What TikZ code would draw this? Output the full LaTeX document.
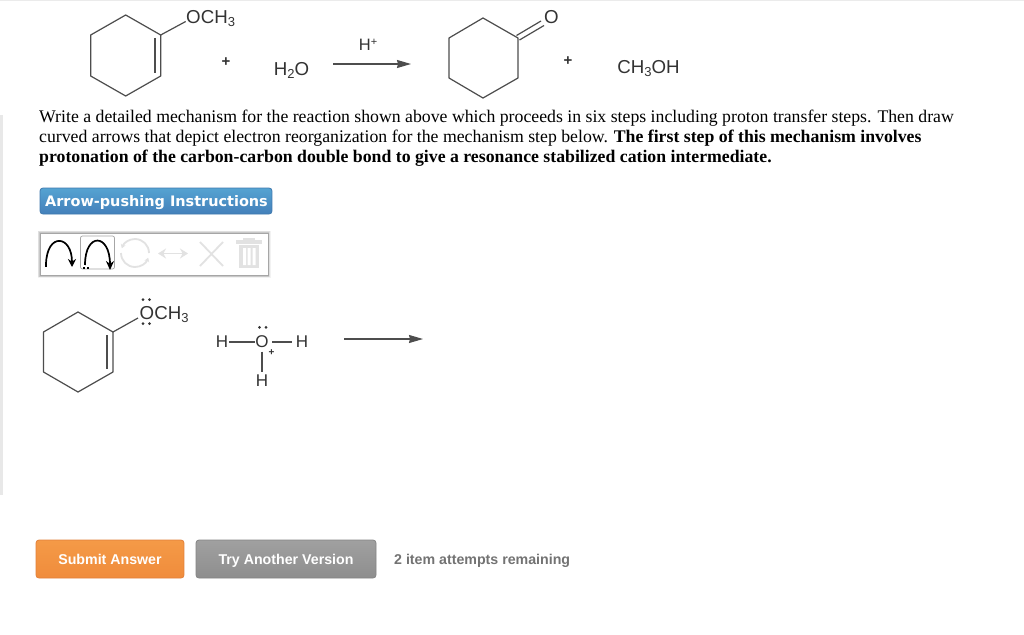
\documentclass[tikz,border=0pt]{standalone}
\usepackage{fontspec}
\setmainfont{Liberation Serif}
\newfontfamily\chemf{Liberation Sans}
\newfontfamily\btnf{DejaVu Sans}
\usetikzlibrary{arrows.meta,calc}
\definecolor{chem}{HTML}{333333}
\definecolor{bond}{HTML}{4D4D4D}
\definecolor{dis}{HTML}{E2E2E2}
\definecolor{blued}{HTML}{3F79AE}
\definecolor{bluet}{HTML}{55A3D2}
\definecolor{blueb}{HTML}{4480BA}
\definecolor{orad}{HTML}{E2803A}
\definecolor{orat}{HTML}{F49A47}
\definecolor{orab}{HTML}{F08C3C}
\definecolor{grad}{HTML}{858585}
\definecolor{grat}{HTML}{A0A0A0}
\definecolor{grab}{HTML}{8E8E8E}
\tikzset{
  x=1pt,y=-1pt,
  bondl/.style={draw=bond,line width=1.2pt},
  atom/.style={font=\chemf\fontsize{18.7}{18.7}\selectfont,text=chem,inner sep=1pt},
  atoms/.style={font=\chemf\fontsize{17}{17}\selectfont,text=chem,inner sep=.5pt},
  plus/.style={font=\chemf\bfseries\fontsize{15}{15}\selectfont,text=chem,inner sep=0pt},
  rxn/.style={draw=bond,line width=1.2pt,-{Stealth[length=14pt,width=8pt,inset=1pt]}},
  body/.style={anchor=base west,inner sep=0pt,text=black,font=\fontsize{17.75}{17.75}\selectfont},
  bodyb/.style={body,font=\fontsize{17.75}{17.75}\selectfont\bfseries},
  btn/.style={rounded corners=3pt,line width=.8pt,inner sep=0pt},
  btntext/.style={anchor=base,inner sep=0pt,text=white,font=\chemf\bfseries\fontsize{14.2}{14.2}\selectfont},
  lp/.style={fill=chem,draw=none,circle,minimum size=3pt,inner sep=0pt},
  icon/.style={draw=black,line width=1.7pt},
  disl/.style={draw=dis,line width=1.8pt},
}
\newcommand{\ring}[7]{%
  \coordinate (#1a) at #2; \coordinate (#1b) at #3; \coordinate (#1c) at #4;
  \coordinate (#1d) at #5; \coordinate (#1e) at #6; \coordinate (#1f) at #7;
  \draw[bondl,line join=round] (#1a)--(#1b)--(#1c)--(#1d)--(#1e)--(#1f)--cycle;}
\newcommand{\subs}[1]{\raisebox{-3pt}{\fontsize{13}{13}\selectfont #1}}
\begin{document}
\begin{tikzpicture}
\path[use as bounding box,fill=white] (0,0) rectangle (1024,634);
\fill[black!8] (0,0) rectangle (1024,1);
\fill[black!9] (0,115) rectangle (3,495);

% top reaction
\ring{r}{(125.7,15)}{(160.7,35)}{(160.7,76)}{(125.7,96)}{(90.7,76)}{(90.7,35)}
\coordinate (rd1) at (155,38); \coordinate (rd2) at (155,73);
\draw[bondl] (rd1)--(rd2);
\node[atom,anchor=base west,inner sep=0pt] (och) at (186,24) {OCH\subs{3}};
\coordinate (ochb) at (185.7,21.5);
\draw[bondl] (rb)--(ochb);
\node[plus] (p1) at (226,62.5) {+};
\node[atom,anchor=base] (wat) at (291.5,75) {H\subs{2}O};
\node[atom,font=\chemf\fontsize{16.5}{16.5}\selectfont] (hp) at (368,45) {H\raisebox{5pt}{\fontsize{11}{11}\selectfont +}};
\coordinate (a1s) at (333,64); \coordinate (a1e) at (411,64);
\draw[rxn] (a1s)--(a1e);
\ring{k}{(483,18)}{(518,38)}{(518,78)}{(483,98)}{(449,78)}{(449,38)}
\node[atom,inner sep=0pt] (ko) at (551.5,17) {O};
\coordinate (ko1) at (516.5,35.5); \coordinate (ko2) at (541,21);
\coordinate (ko3) at (519.5,40); \coordinate (ko4) at (544,25.5);
\draw[bondl] (ko1)--(ko2); \draw[bondl] (ko3)--(ko4);
\node[plus] (p2) at (568,61.5) {+};
\node[atom,anchor=base] (meoh) at (648.5,73) {CH\subs{3}OH};

% text
\node[body] (t1) at (39,122) {Write a detailed mechanism for the reaction shown above which proceeds in six steps including proton transfer steps. Then draw};
\node[body] (t2) at (39,142) {curved arrows that depict electron reorganization for the mechanism step below. \textbf{The first step of this mechanism involves}};
\node[bodyb] (t3) at (39,162) {protonation of the carbon-carbon double bond to give a resonance stabilized cation intermediate.};

% blue button
\node[btn,draw=blued,top color=bluet,bottom color=blueb,minimum width=232pt,minimum height=26pt] (instr) at (156,201) {};
\node[btntext,font=\btnf\bfseries\fontsize{14.45}{14.45}\selectfont] (instrt) at (156.5,206) {Arrow-pushing Instructions};

% toolbar
\foreach \s/\o in {5/.05,3.5/.08,2/.1}{\fill[black,opacity=\o] (40-\s/2,233-\s/2) rectangle (268+\s/2,275+\s/2+.5);}
\node[draw=black!35,fill=white,line width=.8pt,minimum width=228pt,minimum height=42pt,inner sep=0pt] (tools) at (154,254) {};
\node[draw=black!35,fill=white,rounded corners=2pt,line width=.7pt,minimum width=34pt,minimum height=33pt,inner sep=0pt] (sel) at (97.5,252.5) {};
\draw[icon,-{Stealth[length=8pt,width=8pt]}] (46,264) .. controls (47,232) and (72,235) .. (72,267);
\fill[black] (45.2,264) rectangle (47.4,266.5);
\draw[icon,-{Stealth[length=9pt,width=8pt]}] (85,265) .. controls (85,232) and (110,233) .. (110,270);
\fill[black] (83,266.5) rectangle (85,268.5); \fill[black] (87,266.5) rectangle (89,268.5);
% redo circle
\draw[disl,-{Stealth[length=4pt,width=5pt]}] (121,253) arc[start angle=180,end angle=340,x radius=14,y radius=-14];
\draw[disl,-{Stealth[length=4pt,width=5pt]}] (149,253) arc[start angle=0,end angle=160,x radius=14,y radius=-14];
% double arrow, cross, trash
\draw[disl,{Stealth[length=8pt,width=10pt]}-{Stealth[length=8pt,width=10pt]}] (158,253.5)--(188,253.5);
\draw[disl] (200,242)--(223,266) (223,242)--(200,266);
\fill[dis] (236,240) rectangle (262,243.5);
\fill[dis] (243,238) rectangle (255,240);
\fill[dis] (239,245) rectangle (259,268);
\fill[white] (243,248) rectangle (246,265) (247.7,248) rectangle (250.7,265) (252.5,248) rectangle (255.5,265);

% lower molecule
\ring{c}{(78,312)}{(113,332)}{(113,372)}{(78,392)}{(43.5,372)}{(43.5,332)}
\coordinate (cd1) at (107,335); \coordinate (cd2) at (107,369);
\draw[bondl] (cd1)--(cd2);
\node[atom,anchor=base west,inner sep=0pt] (och2) at (139.5,319) {OCH\subs{3}};
\coordinate (och2b) at (138,318);
\draw[bondl] (cb)--(och2b);
\foreach \p/\n in {(143,299.5)/a,(149.5,299.5)/b,(143,323.5)/c,(149.5,323.5)/d}{\node[lp] (l\n) at \p {};}

% hydronium
\node[atoms] (h1) at (222,342) {H};
\node[atoms] (ox) at (262,342) {O};
\node[atoms] (h2) at (302,342) {H};
\node[atoms] (h3) at (262,381) {H};
\draw[bondl] (h1)--(ox);
\draw[bondl,shorten <=3pt,shorten >=3pt] (ox)--(h2);
\draw[bondl,shorten <=3pt,shorten >=2pt] (ox)--(h3);
\node[lp] (l1) at (259.5,327.3) {}; \node[lp] (l2) at (266,327.3) {};
\node[inner sep=0pt,text=chem,font=\chemf\bfseries\fontsize{10}{10}\selectfont] (pl) at (271.5,353) {+};
\coordinate (a2s) at (344,339); \coordinate (a2e) at (423,339);
\draw[rxn] (a2s)--(a2e);

% bottom buttons
\node[btn,draw=orad,top color=orat,bottom color=orab,minimum width=148pt,minimum height=38pt] (sub) at (110,559) {};
\node[btntext] (subt) at (110,564) {Submit Answer};
\node[btn,draw=grad,top color=grat,bottom color=grab,minimum width=180pt,minimum height=38pt] (try) at (286,559) {};
\node[btntext] (tryt) at (286,564) {Try Another Version};
\node[anchor=base west,inner sep=0pt,text=black!55,font=\chemf\bfseries\fontsize{14.2}{14.2}\selectfont] (att) at (394,564) {2 item attempts remaining};
\end{tikzpicture}
\end{document}
